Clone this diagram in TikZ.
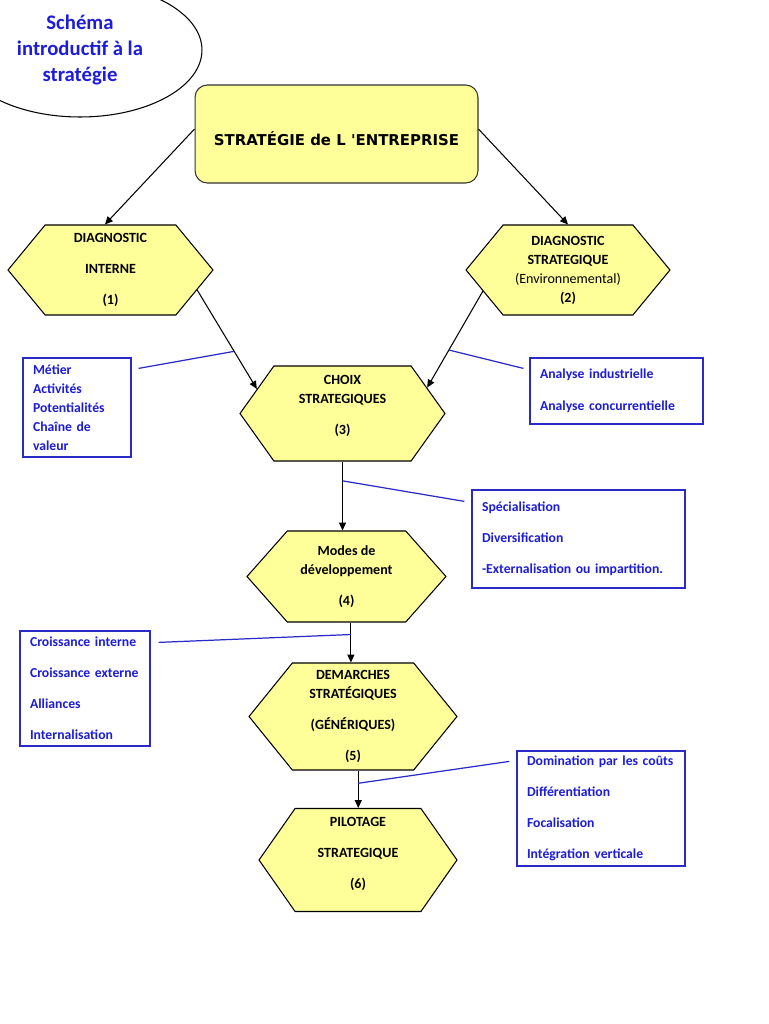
\documentclass[tikz,border=0pt]{standalone}
\usepackage{fontspec}
\setmainfont{Carlito}
\newfontfamily\headfont{DejaVu Sans}
\usetikzlibrary{arrows.meta,shapes.geometric,shapes.symbols}
\definecolor{PaleYellow}{HTML}{FFFF99}
\definecolor{InkBlue}{HTML}{1C1CD9}
\definecolor{FrameBlue}{HTML}{2A2AC8}
\definecolor{EdgeGrey}{HTML}{333333}

\tikzset{
  hexa/.style={signal, signal to=east and west, draw=black, fill=PaleYellow, line width=0.6pt,
    inner sep=0pt, align=center, font=\fontsize{8}{10.8}\selectfont\bfseries},
  notebox/.style={draw=FrameBlue, line width=0.7pt, fill=white, align=left, inner xsep=0.2cm,
    inner ysep=0pt, text=InkBlue, font=\fontsize{7.8}{17.6}\selectfont\bfseries},
  arr/.style={-{Triangle[length=4.5pt,width=4pt]}, line width=0.6pt},
  note/.style={FrameBlue, line width=0.7pt},
}

\begin{document}
\begin{tikzpicture}[x=0.02cm, y=-0.02cm]
  \useasboundingbox (0,0) rectangle (768,1024);
  \clip (0,0) rectangle (768,1024);

  % title bubble
  \node[ellipse, draw, line width=0.6pt, minimum width=4.88cm, minimum height=2.68cm, align=center,
    text=InkBlue, font=\fontsize{11.8}{15}\selectfont\bfseries] (title) at (80,50)
    {Schéma\\introductif à la\\stratégie};

  \node[draw=EdgeGrey, fill=PaleYellow, rounded corners=7pt, line width=0.6pt, minimum width=5.66cm,
    minimum height=1.96cm, font=\headfont\fontsize{8.5}{10}\selectfont\bfseries] (strat) at (336.5,134)
    {\raisebox{-2.8pt}[\height][\depth]{STRATÉGIE de L 'ENTREPRISE}};

  % hexagons
  \node[hexa, signal pointer angle=101, minimum width=4.1cm, minimum height=1.8cm] (diagI) at (110.5,270)
    {DIAGNOSTIC\\[6.8pt]INTERNE\\[6.8pt](1)};
  \node[hexa, signal pointer angle=101, minimum width=4.08cm, minimum height=1.8cm] (diagS) at (568,270)
    {DIAGNOSTIC\\STRATEGIQUE\\{\mdseries(Environnemental)}\\(2)};
  \node[hexa, signal pointer angle=109, minimum width=4.1cm, minimum height=1.9cm] (choix) at (342.5,413.5)
    {CHOIX\\STRATEGIQUES\\[6.8pt](3)\\[-0.6pt]\mbox{}};
  \node[hexa, signal pointer angle=97, minimum width=3.98cm, minimum height=1.82cm] (modes) at (346.5,576.5)
    {Modes de\\développement\\[6.8pt](4)};
  \node[hexa, signal pointer angle=102, minimum width=4.16cm, minimum height=2.14cm] (demarches) at (353,716.5)
    {DEMARCHES\\STRATÉGIQUES\\[6.8pt](GÉNÉRIQUES)\\[6.8pt](5)};
  \node[hexa, signal pointer angle=110, minimum width=3.96cm, minimum height=2.06cm] (pilotage) at (358,860)
    {PILOTAGE\\[6.8pt]STRATEGIQUE\\[6.8pt](6)\\[-2.3pt]\mbox{}};

  % blue boxes
  \node[notebox, text width=1.76cm, minimum height=1.98cm, font=\fontsize{7.8}{10.8}\selectfont\bfseries]
    (metier) at (77,407.5) {Métier\\Activités\\Potentialités\\Chaîne de\\valeur};
  \node[notebox, text width=3.06cm, minimum height=1.32cm, font=\fontsize{7.8}{18.2}\selectfont\bfseries]
    (analyse) at (616.5,391) {Analyse industrielle\\Analyse concurrentielle};
  \node[notebox, text width=3.86cm, minimum height=1.96cm] (special) at (578.5,539)
    {Spécialisation\\Diversification\\-Externalisation ou impartition.};
  \node[notebox, text width=2.2cm, minimum height=2.3cm] (croissance) at (85,688.5)
    {Croissance interne\\Croissance externe\\Alliances\\Internalisation};
  \node[notebox, text width=2.96cm, minimum height=2.3cm] (domination) at (601,808.5)
    {Domination par les coûts\\Différentiation\\Focalisation\\Intégration verticale};

  % arrows
  \draw[arr] (strat.178) -- (diagI.97);
  \draw[arr] (strat.2) -- (diagS.north);
  \draw[arr] (diagI.-13) -- coordinate[pos=0.62] (j1) (choix.164);
  \draw[arr] (diagS.-166) -- coordinate[pos=0.61] (j2) (choix.17);
  \draw[arr] (choix.south) -- coordinate[pos=0.28] (j3) (choix.south |- modes.north);
  \draw[arr] ([xshift=2.5]modes.south) -- coordinate[pos=0.3] (j4) ([xshift=2.5]modes.south |- demarches.north);
  \draw[arr] ([xshift=3]demarches.south) -- coordinate[pos=0.34] (j5) ([xshift=3]demarches.south |- pilotage.north);

  % links to the boxes
  \draw[note] ([shift={(7,11)}]metier.north east) -- (j1);
  \draw[note] ([shift={(-6,11)}]analyse.north west) -- (j2);
  \draw[note] ([shift={(-7,12)}]special.north west) -- (j3);
  \draw[note] ([shift={(8,12)}]croissance.north east) -- (j4);
  \draw[note] ([shift={(-7,11)}]domination.north west) -- (j5);
\end{tikzpicture}
\end{document}
